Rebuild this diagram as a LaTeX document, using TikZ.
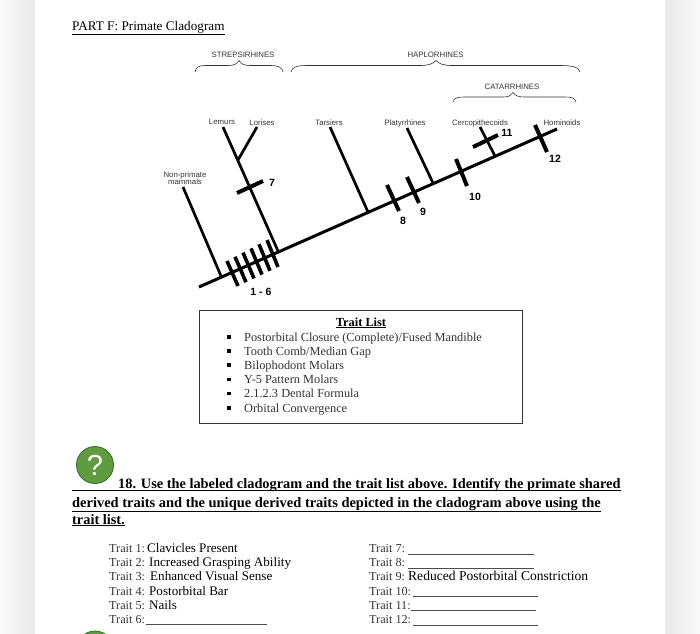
\documentclass[tikz,border=0pt]{standalone}
\usepackage{fontspec}
\setmainfont{Liberation Serif}
\newfontfamily\labelfont{Liberation Sans}
\definecolor{sidegrey}{HTML}{F4F4F4}
\definecolor{edgegrey}{HTML}{E9E9E9}
\definecolor{qgreen}{HTML}{5E9C3F}
\definecolor{qring}{HTML}{2F6B2A}
\definecolor{inkgrey}{HTML}{333333}
\tikzset{
  trunk/.style={line width=3pt,black},
  branch/.style={line width=2.7pt,black},
  tick/.style={line width=4pt,black},
  finetick/.style={line width=3.6pt,black},
  curlybrace/.style={line width=.6pt,inkgrey},
  taxon/.style={font=\labelfont\fontsize{7.8}{9}\selectfont,text=inkgrey,inner sep=0pt,align=center},
  number/.style={font=\labelfont\bfseries\fontsize{10.5}{11}\selectfont,inner sep=0pt},
  listline/.style={font=\fontsize{12.35}{13}\selectfont,text=inkgrey,inner sep=0pt,anchor=base west},
  bullet/.style={fill=black,minimum size=3.5pt,inner sep=0pt},
  question/.style={font=\bfseries\fontsize{14.35}{15}\selectfont,inner sep=0pt,anchor=base west},
  traitline/.style={font=\fontsize{12.2}{13}\selectfont,text=inkgrey,inner sep=0pt,anchor=base west},
  traitvalue/.style={font=\fontsize{13.1}{14}\selectfont,text=black,inner sep=0pt,anchor=base west},
  blank/.style={line width=.8pt,black!70},
  qbadge/.style={circle,fill=qgreen,draw=qring,line width=.8pt,minimum size=37pt,inner sep=0pt},
}
\begin{document}
\begin{tikzpicture}[x=1pt,y=-1pt]
\useasboundingbox (0,0) rectangle (700,633);
\shade[left color=sidegrey!50,right color=edgegrey] (0,0) rectangle (35,633);
\shade[left color=edgegrey,right color=sidegrey!50] (665,0) rectangle (700,633);

\node[font=\fontsize{13.2}{14}\selectfont,inner sep=0pt,anchor=base west] (title) at (72,30) {\underline{PART F: Primate Cladogram}};

% main stem
\coordinate (rootend) at (199,287);
\coordinate (tipend) at (557,129);
\draw[trunk] (rootend) -- (tipend);

% taxon labels
\node[taxon] (nonprimate) at (185,178) {Non-primate\\[-1.5pt]mammals};
\node[taxon] (lemurs) at (222,122) {Lemurs};
\node[taxon] (lorises) at (262,123) {Lorises};
\node[taxon] (tarsiers) at (329,123) {Tarsiers};
\node[taxon] (platy) at (405,123) {Platyrrhines};
\node[taxon] (cerco) at (480,123) {Cercopithecoids};
\node[taxon] (homin) at (562,123) {Hominoids};

% branches
\coordinate (npTop) at (183,187);  \coordinate (npBase) at (221,276);
\coordinate (leTop) at (223,127);  \coordinate (leBase) at (278,251);
\coordinate (loTop) at (257,127);  \coordinate (loBase) at (238,160);
\coordinate (taTop) at (330,127);  \coordinate (taBase) at (368,212);
\coordinate (plTop) at (407,128);  \coordinate (plBase) at (433,183);
\coordinate (ceTop) at (480,127);  \coordinate (ceBase) at (495,156);
\draw[branch] (npTop) -- (npBase);
\draw[branch] (leTop) -- (leBase);
\draw[branch] (loTop) -- (loBase);
\draw[branch] (taTop) -- (taBase);
\draw[branch] (plTop) -- (plBase);
\draw[branch] (ceTop) -- (ceBase);

% trait ticks 1-6
\foreach \i in {0,...,5}{
  \draw[finetick] ({227+8*\i},{261-4.2*\i}) -- ({238+8*\i},{286-3.8*\i});
}
% other ticks
\draw[tick] (237,193) -- (263,181);
\draw[tick] (387,185) -- (399,211);
\draw[tick] (407,177) -- (419,203);
\draw[tick] (456,159) -- (467,186);
\draw[tick] (473,147) -- (498,135);
\draw[tick] (535,125) -- (547,152);

% numbers
\node[number] (n16) at (261,292) {1 - 6};
\node[number] (n7) at (272,183) {7};
\node[number] (n8) at (403,221) {8};
\node[number] (n9) at (423,212) {9};
\node[number] (n10) at (475,197) {10};
\node[number] (n11) at (507,133) {11};
\node[number] (n12) at (555,159) {12};

% braces
\draw[curlybrace] (195,72) .. controls (196,67) and (199,65.5) .. (205,65.5) -- (228,65.5) .. controls (234,65.5) and (237,64) .. (239,60.5) .. controls (241,64) and (244,65.5) .. (250,65.5) -- (270,65.5) .. controls (278,65.5) and (282,67) .. (283,72);
\draw[curlybrace] (291,72) .. controls (292,67) and (297,65.5) .. (307,65.5) -- (420,65.5) .. controls (428,65.5) and (433,64) .. (436,60.5) .. controls (439,64) and (444,65.5) .. (452,65.5) -- (560,65.5) .. controls (572,65.5) and (579,67) .. (580,72);
\draw[curlybrace] (453,102) .. controls (454,98) and (457,97) .. (464,97) -- (503,97) .. controls (509,97) and (511,95.5) .. (513,92.5) .. controls (515,95.5) and (518,97) .. (524,97) -- (565,97) .. controls (572,97) and (575,98) .. (576,102);
\node[taxon] (strep) at (243,55) {STREPSIRHINES};
\node[taxon] (haplo) at (435.5,55) {HAPLORHINES};
\node[taxon] (catar) at (512,87) {CATARRHINES};

% trait list box
\node[draw=black!80,line width=.8pt,minimum width=323pt,minimum height=113pt,inner sep=0pt] (listbox) at (360.5,367) {};
\node[font=\bfseries\fontsize{12.35}{13}\selectfont,inner sep=0pt,anchor=base] (listhead) at (361,326) {\underline{Trait List}};
\foreach \y/\t in {341/{Postorbital Closure (Complete)/Fused Mandible},355/{Tooth Comb/Median Gap},369/{Bilophodont Molars},383.5/{Y-5 Pattern Molars},397.5/{2.1.2.3 Dental Formula},412/{Orbital Convergence}}{
  \node[bullet] at (229,{\y-4}) {};
  \node[listline] at (244,\y) {\t};
}

% question icon
\node[qbadge,text=white,font=\labelfont\fontsize{29}{29}\selectfont] (qicon) at (95,465) {?};
\node[qbadge] (qnext) at (95,649.5) {};

% question text
\node[question] (q1) at (118,488) {18. Use the labeled cladogram and the trait list above. Identify the primate shared};
\draw[line width=.9pt] (72,490.5) -- (621,490.5);
\node[question,font=\bfseries\fontsize{14.45}{15}\selectfont] (q2) at (72,507) {\underline{derived traits and the unique derived traits depicted in the cladogram above using the}};
\node[question] (q3) at (72,524) {\underline{trait list.}};

% traits, left
\foreach \y/\a/\vx/\b in {552/Trait 1:/147/Clavicles Present,566.5/Trait 2:/149/Increased Grasping Ability,580.5/Trait 3:/150/Enhanced Visual Sense,595/Trait 4:/149/Postorbital Bar,609/Trait 5:/149/Nails}{
  \node[traitline] at (109,\y) {\a};
  \node[traitvalue] at (\vx,\y) {\b};
}
\node[traitline] (t6) at (109,623) {Trait 6:};
\draw[blank] (146,624.5) -- (267,624.5);

% traits, right
\node[traitline] (t7) at (369,552) {Trait 7:};
\draw[blank] (408,554) -- (534,554);
\node[traitline] (t8) at (369,566.5) {Trait 8:};
\draw[blank] (408,568) -- (534,568);
\node[traitline] (t9) at (369,580.5) {Trait 9:};
\node[traitvalue,font=\fontsize{13.55}{14}\selectfont] (t9v) at (408,580.5) {Reduced Postorbital Constriction};
\node[traitline] (t10) at (369,595) {Trait 10:};
\draw[blank] (413,596.5) -- (538,596.5);
\node[traitline] (t11) at (369,609) {Trait 11:};
\draw[blank] (411,610.5) -- (536,610.5);
\node[traitline] (t12) at (369,623) {Trait 12:};
\draw[blank] (413,625) -- (538,625);
\end{tikzpicture}
\end{document}
